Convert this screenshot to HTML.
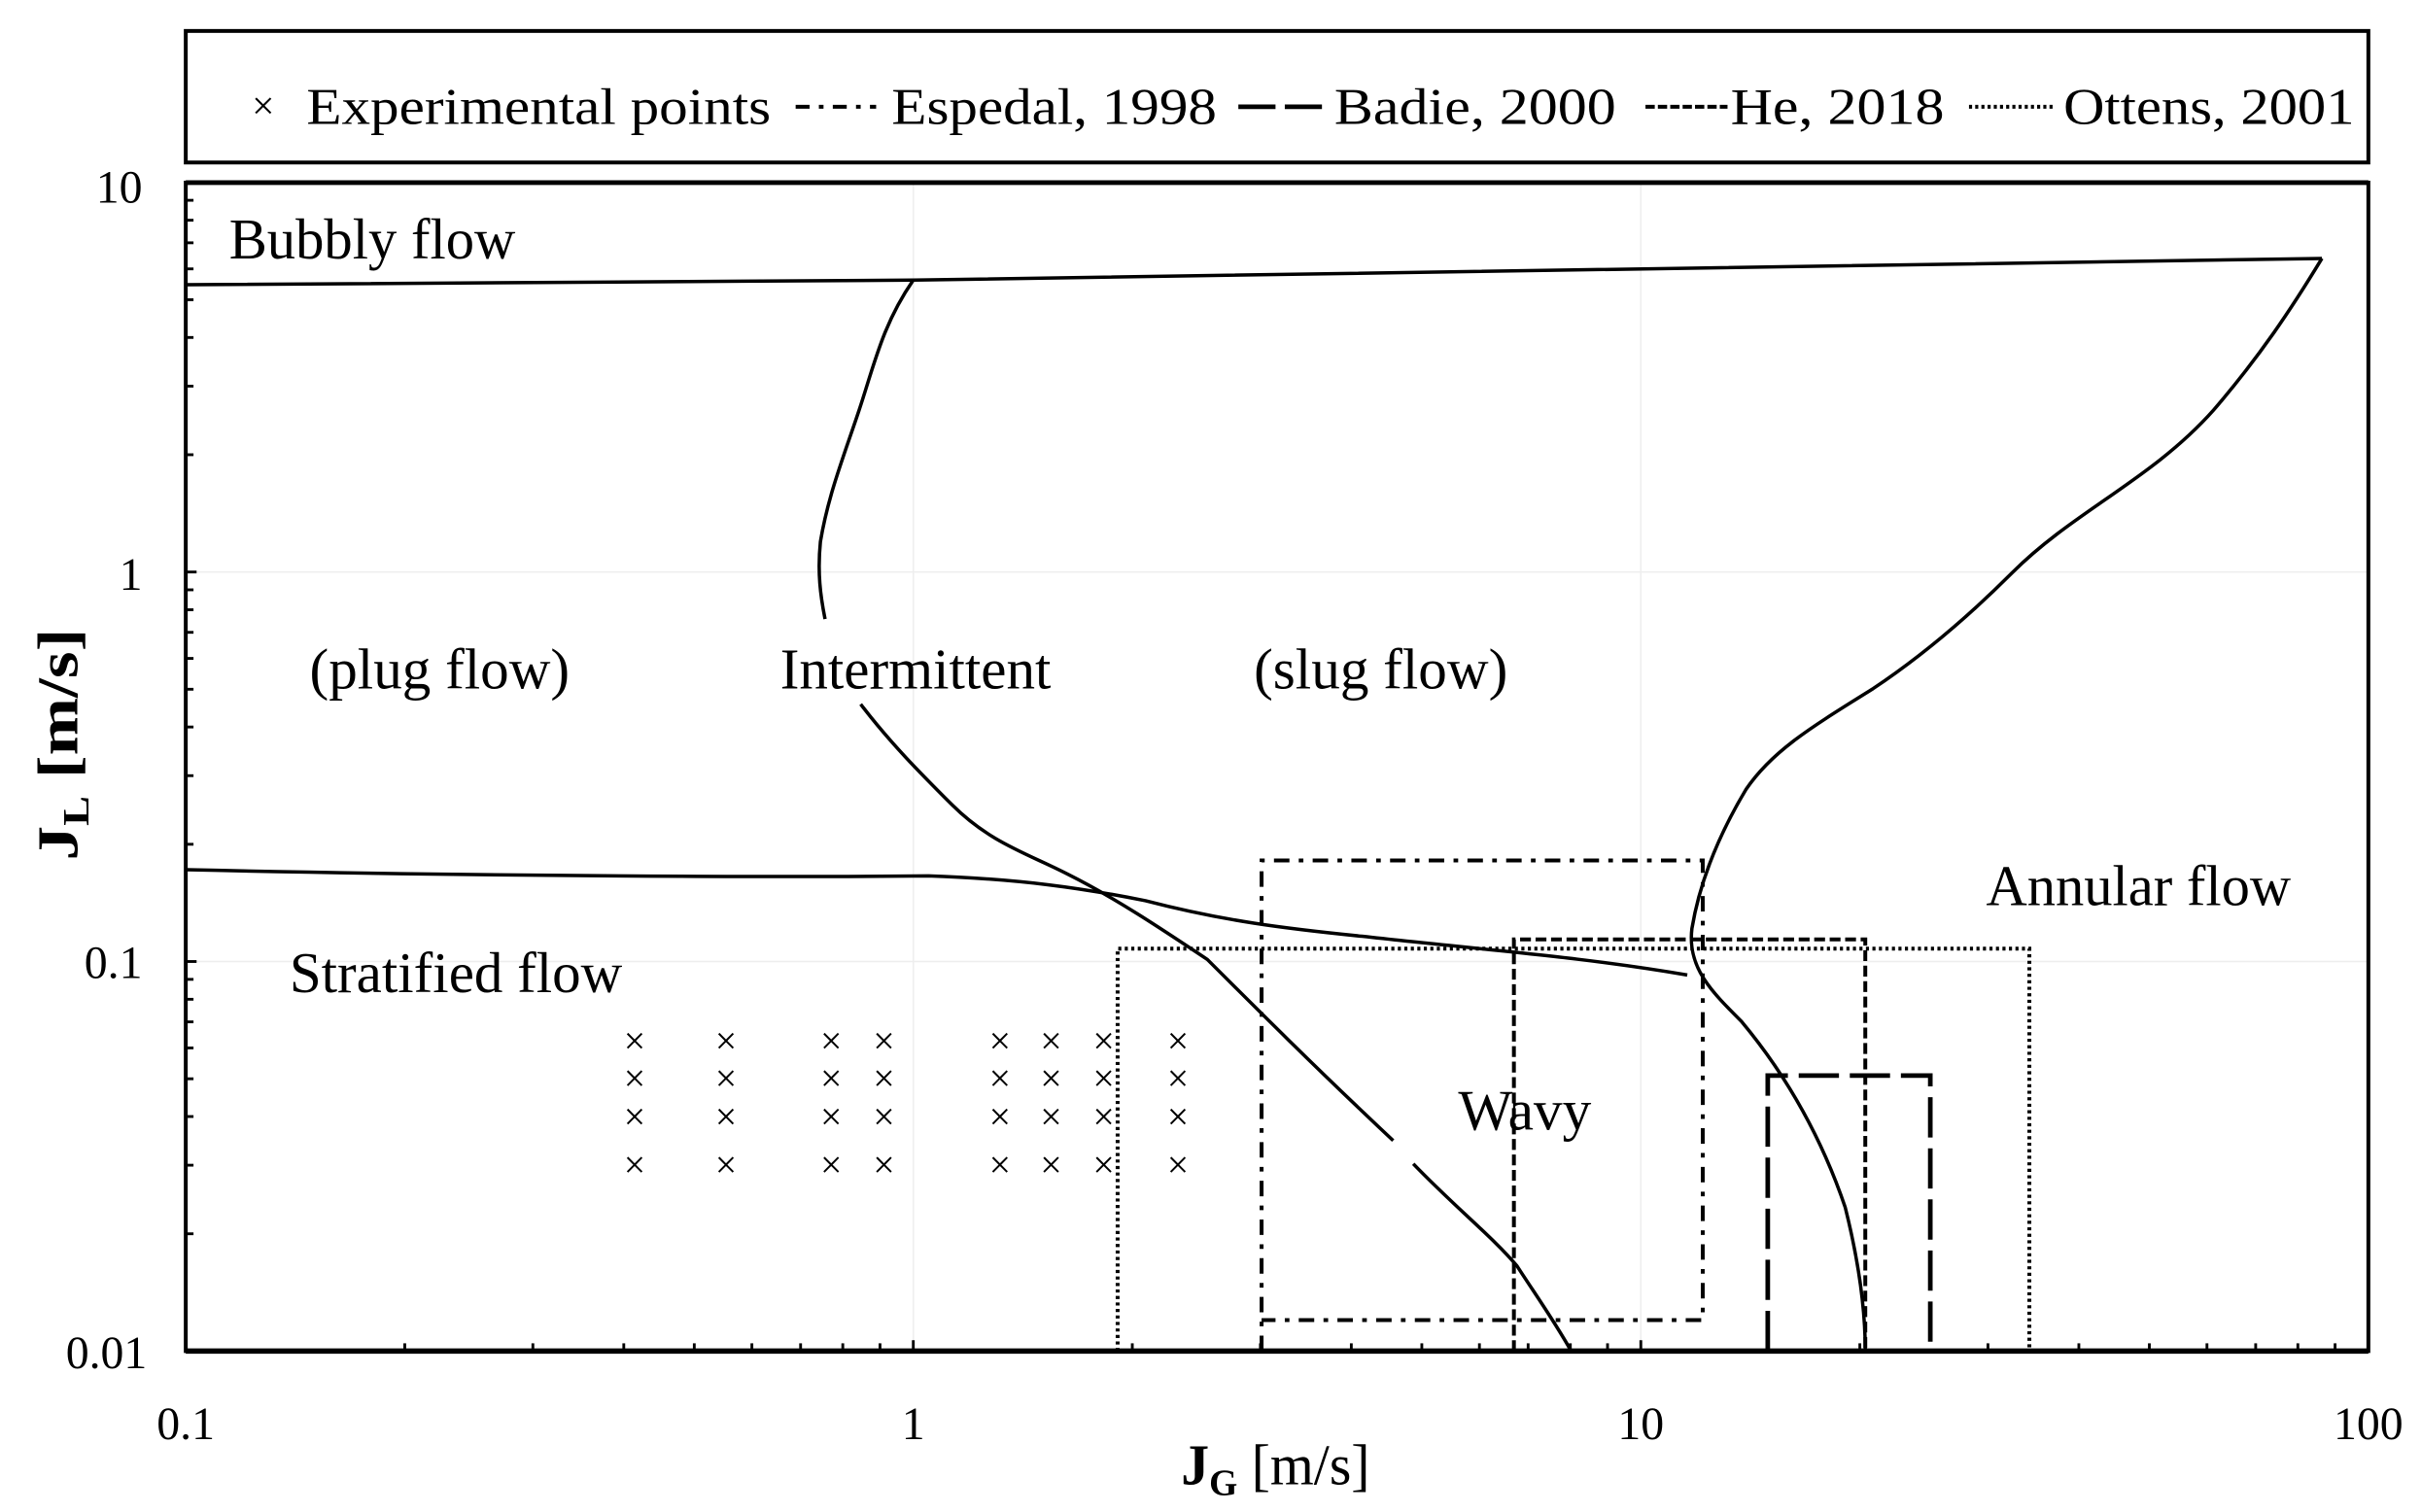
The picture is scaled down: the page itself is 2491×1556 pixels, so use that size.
<!DOCTYPE html>
<html><head><meta charset="utf-8"><style>
html,body{margin:0;padding:0;background:#fff;}
svg{display:block;}
text{font-family:"Liberation Serif",serif;fill:#000;}
</style></head><body>
<svg id="s" width="2491" height="1556" viewBox="0 0 1564 977" preserveAspectRatio="none" xmlns="http://www.w3.org/2000/svg">
<rect width="1564" height="977" fill="#fff"/>
<!-- legend -->
<rect x="120" y="20" width="1410" height="85" fill="none" stroke="#000" stroke-width="2.5"/>
<text x="170" y="77" font-size="26" text-anchor="middle">×</text>
<text x="198" y="80" font-size="33" textLength="300" lengthAdjust="spacingAndGlyphs">Experimental points</text>
<line x1="514" y1="69" x2="566" y2="69" stroke="#000" stroke-width="2.5" stroke-dasharray="9,6,3,6"/>
<text x="576" y="80" font-size="33" textLength="210" lengthAdjust="spacingAndGlyphs">Espedal, 1998</text>
<line x1="800" y1="69" x2="858" y2="69" stroke="#000" stroke-width="3" stroke-dasharray="24,6"/>
<text x="862" y="80" font-size="33" textLength="182" lengthAdjust="spacingAndGlyphs">Badie, 2000</text>
<line x1="1063" y1="69" x2="1116" y2="69" stroke="#000" stroke-width="2.5" stroke-dasharray="6,2"/>
<text x="1118" y="80" font-size="33" textLength="138" lengthAdjust="spacingAndGlyphs">He, 2018</text>
<line x1="1272" y1="69" x2="1326" y2="69" stroke="#000" stroke-width="2.5" stroke-dasharray="2,2"/>
<text x="1333" y="80" font-size="33" textLength="188" lengthAdjust="spacingAndGlyphs">Ottens, 2001</text>

<!-- faint grid -->
<g stroke="#eee" stroke-width="1">
<line x1="590" y1="118" x2="590" y2="873"/><line x1="1060" y1="118" x2="1060" y2="873"/>
<line x1="120" y1="369.6" x2="1530" y2="369.6"/><line x1="120" y1="621.3" x2="1530" y2="621.3"/>
</g>
<g id="ticks" stroke="#000" stroke-width="1.8"></g>

<!-- boxes -->
<g fill="none" stroke="#000">
<path d="M722,873 V613 H1311 V873" stroke-width="2.5" stroke-dasharray="2,2.2"/>
<path d="M815,873 V556 H1100 V853 H815" stroke-width="2.5" stroke-dasharray="10,6,3,6"/>
<path d="M978,873 V607 H1205 V873" stroke-width="2.5" stroke-dasharray="7,3"/>
<path d="M1142,873 V695 H1247 V873" stroke-width="3" stroke-dasharray="26,7"/>
</g>

<!-- curves -->
<g fill="none" stroke="#000" stroke-width="2.2" stroke-linejoin="round">
<path d="M120,184 L590,181 L1500,167"/>
<path d="M1500,167 C1480,200 1460,230 1430,265 C1390,310 1340,330 1300,370 C1270,400 1240,425 1210,445 C1170,470 1145,485 1128,510 C1110,540 1098,570 1093,600 C1090,625 1105,640 1125,660 C1150,690 1175,730 1192,780 C1202,820 1205,850 1205,873"/>
<path d="M590,181 C570,210 565,235 555,265 C545,295 535,320 530,350 C528,370 530,385 533,400"/>
<path d="M556,455 C575,480 595,500 615,520 C640,545 665,552 690,565 C720,580 750,600 780,620 C810,650 850,690 900,737"/>
<path d="M913,752 C940,780 965,800 980,818 C993,838 1005,855 1015,873"/>
<path d="M120,562 C300,566 500,567 600,566 C660,568 700,574 740,582 C790,595 830,600 880,605 C960,614 1020,618 1090,630"/>
</g>

<!-- frame -->
<rect x="120" y="118" width="1410" height="755" fill="none" stroke="#000" stroke-width="2.5"/>
<line x1="120" y1="873" x2="1530" y2="873" stroke="#000" stroke-width="3.5"/>
<line x1="120" y1="118" x2="1530" y2="118" stroke="#000" stroke-width="3"/>

<!-- markers -->
<g id="mk" font-size="25" fill="#333" text-anchor="middle"></g>

<!-- labels -->
<g font-size="37">
<text x="148" y="167" textLength="185" lengthAdjust="spacingAndGlyphs">Bubbly flow</text>
<text x="200" y="445" textLength="168" lengthAdjust="spacingAndGlyphs">(plug flow)</text>
<text x="504" y="445" textLength="175" lengthAdjust="spacingAndGlyphs">Intermittent</text>
<text x="810" y="445" textLength="164" lengthAdjust="spacingAndGlyphs">(slug flow)</text>
<text x="1283" y="585" textLength="197" lengthAdjust="spacingAndGlyphs">Annular flow</text>
<text x="187" y="641" textLength="215" lengthAdjust="spacingAndGlyphs">Stratified flow</text>
<text x="942" y="730" textLength="86" lengthAdjust="spacingAndGlyphs">Wavy</text>
</g>
<g font-size="30" text-anchor="end">
<text x="92" y="131">10</text>
<text x="92" y="381">1</text>
<text x="92" y="632">0.1</text>
<text x="95" y="884">0.01</text>
</g>
<g font-size="30" text-anchor="middle">
<text x="120" y="930">0.1</text>
<text x="590" y="930">1</text>
<text x="1060" y="930">10</text>
<text x="1530" y="930">100</text>
</g>
<text x="763" y="959" font-size="37" font-weight="bold" textLength="122" lengthAdjust="spacingAndGlyphs">J<tspan font-size="24" dy="7">G</tspan><tspan dy="-7" font-weight="normal"> [m/s]</tspan></text>
<text transform="translate(50,556) rotate(-90)" font-size="37" font-weight="bold" textLength="150" lengthAdjust="spacingAndGlyphs">J<tspan font-size="24" dy="7">L</tspan><tspan dy="-7"> [m/s]</tspan></text>
</svg>
<script>
var ns="http://www.w3.org/2000/svg",t=document.getElementById("ticks");
function L(a,b,c,d){var l=document.createElementNS(ns,"line");l.setAttribute("x1",a);l.setAttribute("y1",b);l.setAttribute("x2",c);l.setAttribute("y2",d);t.appendChild(l);}
[120,590,1060].forEach(function(b){for(var k=2;k<=10;k++){var x=b+Math.log10(k)*470;L(x,873,x,k==10?866:868);}});
[873,621.3,369.6].forEach(function(b){for(var k=2;k<=10;k++){var y=b-Math.log10(k)*251.7;L(120,y,k==10?127:125,y);}});
var m=document.getElementById("mk");
[410,469,537,571,646,679,713,761].forEach(function(x){[673,697,722,753].forEach(function(y){var e=document.createElementNS(ns,"text");e.setAttribute("x",x);e.setAttribute("y",y+8);e.textContent="×";m.appendChild(e);});});
</script>
</body></html>
